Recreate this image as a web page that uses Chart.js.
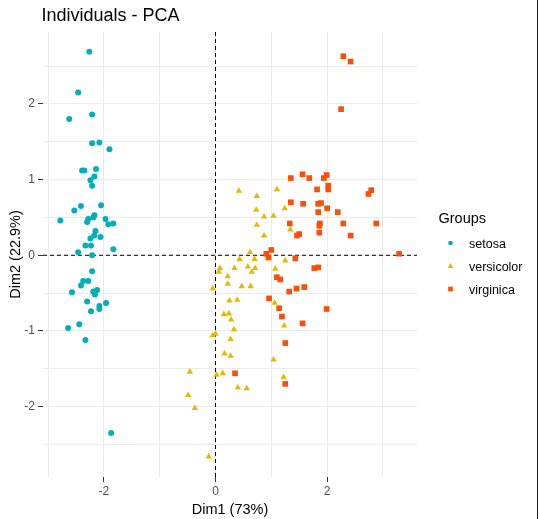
<!DOCTYPE html>
<html>
<head>
<meta charset="utf-8">
<title>Individuals - PCA</title>
<script src="https://cdn.jsdelivr.net/npm/chart.js@4/dist/chart.umd.min.js"></script>
<style>
  html, body { margin: 0; padding: 0; background: #fff; }
  canvas { display: block; }
</style>
</head>
<body>
<canvas id="pca" width="538" height="519"></canvas>
<script>
// Groups and their colours
const groups = ["setosa", "versicolor", "virginica"];
const groupColors = ["#00AFBB", "#E7B800", "#FC4E07"];

// Individual coordinates (Dim1, Dim2)
const setosaX = [-2.26, -2.46, -2.21, -2.62, -2.21, -2.08, -1.90, -2.39, -2.35, -2.14, -2.17, -2.24, -2.21,
  -2.41, -2.53, -2.05, -2.78, -2.28, -2.30, -2.19, -2.17, -1.97, -1.92, -1.83, -2.15, -2.17, -2.24, -2.06,
  -2.33, -2.23, -1.83, -2.46, -2.21, -2.21, -2.37, -2.28, -2.41, -2.57, -2.19, -2.12, -2.16, -2.17, -2.30,
  -1.96, -2.08, -2.08, -2.23, -2.44, -2.64, -2.33, -1.87];
const setosaY = [2.69, 2.15, 1.86, 1.80, 1.48, 1.49, 1.40, 1.12, 1.12, 1.14, 1.04, 0.99, 0.92,
  0.65, 0.59, 0.66, 0.46, 0.48, 0.44, 0.50, 0.53, 0.48, 0.41, 0.42, 0.32, 0.26, 0.22, 0.24,
  0.13, 0.13, 0.08, 0.04, 0.00, -0.21, -0.34, -0.34, -0.40, -0.49, -0.48, -0.46, -0.52, -0.49, -0.61,
  -0.63, -0.67, -0.71, -0.74, -0.91, -0.96, -1.12, -2.35];

const versicolorX = [0.42, 0.74, 1.10, 0.73, 1.24, 0.87, 1.04, 0.74, 0.87, 0.62, 0.43, 0.70, 1.25, 0.08,
  0.34, 0.58, 0.71, 1.07, 1.34, 0.06, 0.65, 0.22, -0.05, 0.22, 0.47, 0.63, 0.25, 0.39, 1.06, 0.15, 0.24,
  0.28, 1.23, 0.33, -0.05, 0.00, 0.27, 0.16, 0.27, 1.04, -0.46, 0.02, 0.13, 0.40, 0.56, 1.22, -0.49,
  -0.37, -0.12];
const versicolorY = [0.85, 0.78, 0.87, 0.60, 0.62, 0.51, 0.52, 0.40, 0.26, 0.04, -0.05, -0.05, -0.07, -0.17,
  -0.17, -0.15, -0.17, -0.18, 0.34, -0.22, -0.22, -0.28, -0.44, -0.38, -0.41, -0.41, -0.60, -0.59, -0.63,
  -0.78, -0.77, -0.85, -0.93, -0.98, -1.06, -1.04, -1.11, -1.30, -1.33, -1.38, -1.54, -1.58, -1.56, -1.75,
  -1.76, -1.61, -1.85, -2.02, -2.66];

const virginicaX = [1.35, 1.35, 1.33, 1.00, 0.91, 0.95, 1.56, 1.68, 1.94, 1.99, 2.02, 2.02, 1.82, 2.79,
  2.74, 1.57, 1.84, 1.89, 2.00, 1.84, 2.19, 1.87, 1.86, 2.29, 2.88, 1.86, 1.50, 1.46, 2.42, 3.29, 1.43,
  1.77, 1.84, 1.10, 1.16, 1.32, 0.96, 1.14, 1.19, 1.25, 0.35, 1.45, 1.59, 1.99, 1.56, 1.25, 2.29, 2.42,
  2.25];
const virginicaY = [1.02, 0.70, 0.42, 0.07, 0.02, -0.03, 1.07, 1.02, 1.02, 1.06, 0.92, 0.87, 0.87, 0.86,
  0.81, 0.68, 0.68, 0.69, 0.62, 0.57, 0.57, 0.42, 0.39, 0.42, 0.42, 0.30, 0.28, 0.26, 0.26, 0.02, -0.04,
  -0.17, -0.16, -0.29, -0.32, -0.48, -0.57, -0.70, -0.81, -1.16, -1.56, -0.44, -0.42, -0.71, -0.90, -1.70,
  2.63, 2.56, 1.93];

// Axis ticks (labelled) and grid lines (major + minor)
const xTicks = [-2, 0, 2];
const yTicks = [-2, -1, 0, 1, 2];
const xGridLines = [-3, -2, -1, 0, 1, 2, 3];
const yGridLines = [-2.5, -2, -1.5, -1, -0.5, 0, 0.5, 1, 1.5, 2, 2.5];

const FONT = "'Liberation Sans', Arial, sans-serif";

function toPoints(xs, ys) {
  return xs.map((x, i) => ({ x: x, y: ys[i] }));
}

// Title, legend, dashed origin lines
const decorations = {
  id: "decorations",
  beforeDraw(chart) {
    const ctx = chart.ctx;
    ctx.save();
    ctx.fillStyle = "#fff";
    ctx.fillRect(0, 0, chart.width, chart.height);
    ctx.restore();
  },
  beforeDatasetsDraw(chart) {
    const { ctx, chartArea, scales } = chart;
    const x0 = scales.x.getPixelForValue(0);
    const y0 = scales.y.getPixelForValue(0);
    ctx.save();
    ctx.strokeStyle = "#000";
    ctx.lineWidth = 1;
    ctx.setLineDash([4, 3]);
    ctx.beginPath();
    ctx.moveTo(x0, chartArea.top);
    ctx.lineTo(x0, chartArea.bottom);
    ctx.moveTo(chartArea.left, y0);
    ctx.lineTo(chartArea.right, y0);
    ctx.stroke();
    ctx.restore();
  },
  afterDraw(chart) {
    const ctx = chart.ctx;
    ctx.save();
    ctx.fillStyle = "#000";
    ctx.textBaseline = "alphabetic";
    ctx.font = "18px " + FONT;
    ctx.fillText("Individuals - PCA", 41.5, 21);

    ctx.font = "14.5px " + FONT;
    ctx.fillText("Groups", 438.5, 223);

    const keyX = 450.5;
    groups.forEach((g, i) => {
      const ky = 243 + i * 23;
      ctx.fillStyle = groupColors[i];
      ctx.beginPath();
      if (i === 0) {
        ctx.arc(keyX, ky, 2.3, 0, Math.PI * 2);
        ctx.fill();
      } else if (i === 1) {
        ctx.moveTo(keyX, ky - 2.9);
        ctx.lineTo(keyX + 2.7, ky + 1.9);
        ctx.lineTo(keyX - 2.7, ky + 1.9);
        ctx.closePath();
        ctx.fill();
      } else {
        ctx.fillRect(keyX - 2.3, ky - 2.3, 4.6, 4.6);
      }
      ctx.fillStyle = "#000";
      ctx.font = "12.5px " + FONT;
      ctx.fillText(g, 469, ky + 4.5);
    });

    // frame line at the right edge of the picture
    ctx.fillStyle = "#222";
    ctx.fillRect(537, 0, 1, chart.height);
    ctx.restore();
  }
};

new Chart(document.getElementById("pca"), {
  type: "scatter",
  data: {
    datasets: [
      { label: "setosa", data: toPoints(setosaX, setosaY), backgroundColor: groupColors[0],
        pointStyle: "circle", pointRadius: 3, borderWidth: 0, order: 3 },
      { label: "versicolor", data: toPoints(versicolorX, versicolorY), backgroundColor: groupColors[1],
        pointStyle: "triangle", pointRadius: 3.7, borderWidth: 0, order: 2 },
      { label: "virginica", data: toPoints(virginicaX, virginicaY), backgroundColor: groupColors[2],
        pointStyle: "rect", pointRadius: 4, borderWidth: 0, order: 1 }
    ]
  },
  options: {
    responsive: false,
    animation: false,
    devicePixelRatio: 1,
    layout: { padding: { top: 32, right: 121, left: 0, bottom: 0 } },
    plugins: {
      legend: { display: false },
      title: { display: false },
      tooltip: { enabled: false }
    },
    scales: {
      x: {
        type: "linear",
        min: -3.09,
        max: 3.61,
        afterBuildTicks: (s) => { s.ticks = xGridLines.map(v => ({ value: v })); },
        afterFit: (s) => { s.height = 42; },
        border: { display: false },
        grid: {
          color: "#EBEBEB",
          lineWidth: 1,
          tickLength: 5,
          tickWidth: 1,
          tickColor: (c) => (c.tick && xTicks.includes(c.tick.value)) ? "#333333" : "rgba(0,0,0,0)"
        },
        ticks: {
          autoSkip: false,
          maxRotation: 0,
          padding: 2,
          color: "#4D4D4D",
          font: { family: FONT, size: 12 },
          callback: (v) => xTicks.includes(v) ? String(v) : ""
        },
        title: {
          display: true,
          text: "Dim1 (73%)",
          color: "#000",
          font: { family: FONT, size: 14.5 },
          padding: { top: 0, bottom: 0 }
        }
      },
      y: {
        type: "linear",
        min: -2.93,
        max: 2.95,
        afterBuildTicks: (s) => { s.ticks = yGridLines.map(v => ({ value: v })); },
        afterFit: (s) => { s.width = 43; },
        border: { display: false },
        grid: {
          color: "#EBEBEB",
          lineWidth: 1,
          tickLength: 5,
          tickWidth: 1,
          tickColor: (c) => (c.tick && yTicks.includes(c.tick.value)) ? "#333333" : "rgba(0,0,0,0)"
        },
        ticks: {
          autoSkip: false,
          padding: 3,
          color: "#4D4D4D",
          font: { family: FONT, size: 12 },
          callback: (v) => yTicks.includes(v) ? String(v) : ""
        },
        title: {
          display: true,
          text: "Dim2 (22.9%)",
          color: "#000",
          font: { family: FONT, size: 14.5 },
          padding: { top: 7, bottom: 0 }
        }
      }
    }
  },
  plugins: [decorations]
});
</script>
</body>
</html>
